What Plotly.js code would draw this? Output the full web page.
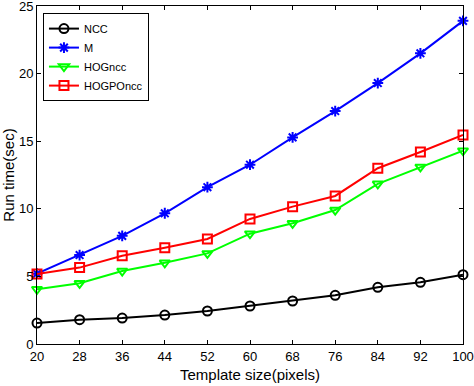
<!DOCTYPE html>
<html><head><meta charset="utf-8">
<script src="https://cdn.plot.ly/plotly-3.0.1.min.js"></script>
<style>html,body{margin:0;padding:0;background:#fff}#c{width:474px;height:386px}</style>
</head><body><div id="c"></div>
<script>
const templateSize = [20, 28, 36, 44, 52, 60, 68, 76, 84, 92, 100];
const ncc      = [1.55, 1.8, 1.92, 2.14, 2.44, 2.81, 3.18, 3.6, 4.19, 4.56, 5.13];
const m        = [5.2, 6.58, 8.0, 9.67, 11.6, 13.26, 15.28, 17.23, 19.3, 21.5, 23.9];
const hogncc   = [4.05, 4.49, 5.4, 6.01, 6.7, 8.16, 8.93, 9.91, 11.85, 13.1, 14.3];
const hogponcc = [5.18, 5.65, 6.53, 7.12, 7.77, 9.25, 10.16, 10.95, 13.0, 14.2, 15.46];
const xTicks = [20, 28, 36, 44, 52, 60, 68, 76, 84, 92, 100];
const yTicks = [0, 5, 10, 15, 20, 25];

function tr(name, y, color, symbol) {
  return {x: templateSize, y: y, name: name, type: 'scatter', mode: 'lines+markers',
    cliponaxis: false,
    line: {color: color, width: 2},
    marker: {symbol: symbol, size: 9, color: color, line: {color: color, width: 2}}};
}
const data = [
  tr('NCC', ncc, '#000000', 'circle-open'),
  tr('M', m, '#0000ff', 'asterisk-open'),
  tr('HOGncc', hogncc, '#00ff00', 'triangle-down-open'),
  tr('HOGPOncc', hogponcc, '#ff0000', 'square-open')
];
const font = {family: 'Liberation Sans, Arial, sans-serif', size: 13, color: '#000'};
const layout = {
  width: 474, height: 386,
  margin: {l: 37, r: 11, t: 6, b: 42},
  paper_bgcolor: '#fff', plot_bgcolor: '#fff',
  font: font,
  showlegend: true,
  legend: {x: 0.014, y: 0.979, xanchor: 'left', yanchor: 'top',
    bgcolor: '#fff', bordercolor: '#000', borderwidth: 1,
    font: {family: 'Liberation Sans, Arial, sans-serif', size: 11, color: '#000'},
    tracegroupgap: 0},
  xaxis: {range: [20, 100], tickvals: xTicks, ticktext: xTicks.map(String),
    ticks: 'inside', ticklen: 4, tickcolor: '#000', showline: true, linecolor: '#000',
    linewidth: 1, mirror: 'ticks', showgrid: false, zeroline: false,
    ticklabeloverflow: 'allow',
    title: {text: 'Template size(pixels)', font: {size: 15}, standoff: 6}},
  yaxis: {range: [0, 25], tickvals: yTicks, ticktext: yTicks.map(String),
    ticks: 'inside', ticklen: 4, tickcolor: '#000', showline: true, linecolor: '#000',
    linewidth: 1, mirror: 'ticks', showgrid: false, zeroline: false,
    ticklabeloverflow: 'allow',
    title: {text: 'Run time(sec)', font: {size: 15}, standoff: 4}}
};
Plotly.newPlot('c', data, layout, {displayModeBar: false, staticPlot: true});
</script></body></html>
